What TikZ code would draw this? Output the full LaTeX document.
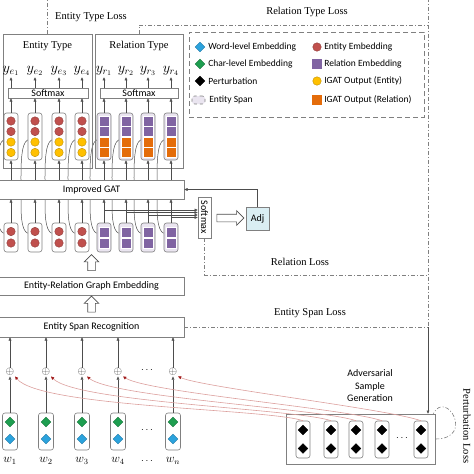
\documentclass[tikz,border=0pt]{standalone}
\usepackage{graphicx}
\usepackage{fontspec}
\setmainfont{Liberation Serif}
\setsansfont{Carlito}
\usetikzlibrary{arrows.meta, positioning, shapes.geometric, shapes.arrows, calc, backgrounds}
\definecolor{cred}{HTML}{C0504D}
\definecolor{cyellow}{HTML}{FFC000}
\definecolor{cpurple}{HTML}{8064A2}
\definecolor{corange}{HTML}{E46C0A}
\definecolor{cblue}{HTML}{2CA3DD}
\definecolor{cgreen}{HTML}{1E9E50}
\definecolor{cgrey}{HTML}{808080}
\definecolor{cline}{HTML}{4D4D4D}
\definecolor{cdark}{HTML}{A01818}
\definecolor{cadj}{HTML}{DAEEF3}
\definecolor{clav}{HTML}{EAE5F0}
\tikzset{
  every picture/.style={font=\sffamily\fontsize{10}{12}\selectfont, line width=0.6pt},
  box/.style={draw=cgrey, fill=white, inner sep=0pt},
  colbox/.style={draw=cgrey, fill=#1, rounded corners=2.5pt, minimum width=14, inner sep=0pt},
  colbox/.default=white,
  ball/.style={circle, draw=#1!75!black, line width=0.4pt, fill=#1, minimum size=8.5, inner sep=0pt},
  sq/.style={draw=white, line width=0.5pt, fill=#1, minimum size=10, inner sep=0pt},
  dia/.style={diamond, draw=#1!75!black, line width=0.4pt, fill=#1, minimum size=10, inner sep=0pt},
  arr/.style={-{Triangle[length=3.2pt, width=2.8pt]}, draw=cline, line width=0.5pt},
  redarr/.style={-{Triangle[length=3.2pt, width=3pt, color=cdark]}, draw=cred!55, line width=0.6pt},
  skip/.style={draw=cline, line width=0.5pt},
  loss/.style={draw=cgrey, line width=0.6pt, dash pattern=on 4pt off 2pt on 1pt off 2pt},
  hollow/.style={single arrow, draw=cline, fill=white, line width=0.6pt, minimum width=14,
    single arrow head extend=3.5pt, inner sep=3.5pt, minimum height=#1},
  ttl/.style={font=\rmfamily\fontsize{10.5}{12}\selectfont},
  legtext/.style={font=\sffamily\fontsize{9.5}{11}\selectfont, anchor=west, inner sep=0pt},
  lab/.style={font=\fontsize{14}{14}\selectfont, inner sep=1pt},
}

\begin{document}
\begin{tikzpicture}[x=1pt, y=-1pt]
  \useasboundingbox (0,0) rectangle (474,474);

  % type classification boxes
  \node[draw=cgrey, minimum width=89, minimum height=134] (etbox) at (47.5,101) {};
  \node[draw=cgrey, minimum width=88, minimum height=134] (rtbox) at (139,101) {};
  \node[ttl] (ett) at (47.5,46) {Entity Type};
  \node[ttl] (rtt) at (139,46) {Relation Type};
  \node[box, minimum width=80, minimum height=10] (esm) at (48,93) {Softmax};
  \node[box, minimum width=78, minimum height=10] (rsm) at (139,93) {Softmax};

  % improved GAT and the layers below
  \node[box, minimum width=185, minimum height=19] (gat) at (91.5,189.5) {Improved GAT};
  \node[box, minimum width=185, minimum height=18] (erge) at (91.5,286) {Entity-Relation Graph Embedding};
  \node[box, minimum width=185, minimum height=20] (esr) at (91.5,327) {Entity Span Recognition};

  % entity columns
  \foreach \x [count=\k] in {11,35,59,82} {
    \node[colbox, minimum height=47] (ue\k) at (\x,136.5) {};
    \node[ball=cred] (uea\k) at (\x,121) {};
    \node[ball=cred] (ueb\k) at (\x,131.5) {};
    \node[ball=cyellow] (uec\k) at (\x,142) {};
    \node[ball=cyellow] (ued\k) at (\x,152.5) {};
    \node[lab] (ye\k) at (\x,71) {$y_{e_\k}$};
    \draw[arr] (ue\k) -- (ue\k |- esm.south);
    \draw[arr] (esm.north -| ue\k) -- (ye\k);
    \node[colbox, minimum height=29] (le\k) at (\x,237.5) {};
    \node[ball=cred] (lea\k) at (\x,231.5) {};
    \node[ball=cred] (leb\k) at (\x,243) {};
  }
  % relation columns
  \foreach \x [count=\k] in {104,126,148,171} {
    \node[colbox=clav, minimum height=47] (ur\k) at (\x,136.5) {};
    \node[sq=cpurple] (ura\k) at (\x,121) {};
    \node[sq=cpurple] (urb\k) at (\x,131.5) {};
    \node[sq=corange] (urc\k) at (\x,142) {};
    \node[sq=corange] (urd\k) at (\x,152.5) {};
    \node[lab] (yr\k) at (\x,71) {$y_{r_\k}$};
    \draw[arr] (ur\k) -- (ur\k |- rsm.south);
    \draw[arr] (rsm.north -| ur\k) -- (yr\k);
    \node[colbox=clav, minimum height=29] (lr\k) at (\x,237.5) {};
    \node[sq=cpurple] (lra\k) at (\x,232) {};
    \node[sq=cpurple] (lrb\k) at (\x,243) {};
  }
  \foreach \n in {e1,e2,e3,e4,r1,r2,r3,r4} {
    \draw[arr] (gat.north -| u\n) -- (u\n);
    \draw[arr] (l\n) -- (l\n |- gat.south);
  }
  \begin{scope}[on background layer]
    \foreach \n in {e1,e2,e3,e4,r1,r2,r3,r4}
      \draw[skip] (l\n.150) .. controls +(-7,-3) and +(0,12) .. ($(gat.south -| l\n)+(-14,0)$)
        -- ($(gat.north -| u\n)+(-14,0)$) .. controls +(0,-12) and +(-7,3) .. (u\n.205);
  \end{scope}

  % adjacency branch
  \node[box, minimum width=13, minimum height=41] (smx) at (204.5,217.5) {\rotatebox{-90}{Softmax}};
  \node[box, fill=cadj, minimum size=23] (adj) at (257.5,218.5) {Adj};
  \foreach \k in {1,...,4} {
    \coordinate (hb\k) at ([yshift={(4-\k)*2.5pt}]smx.west);
    \draw[arr] (hb\k -| lr\k) -- (hb\k);
  }
  \node[hollow=27] (ha3) at ($(smx.east)!0.5!(adj.west)$) {};
  \draw[arr] (adj.north) |- (gat.east);

  \node[hollow=16, shape border rotate=90] (ha1) at ($(erge.north)!0.5!(erge.north |- le4.south)$) {};
  \node[hollow=16, shape border rotate=90] (ha2) at ($(esr.north)!0.5!(erge.south)$) {};

  % input words
  \foreach \x/\w [count=\k] in {10/1,46/2,82/3,118/4,173/n} {
    \node[colbox, minimum width=15, minimum height=37] (wc\k) at (\x,431.5) {};
    \node[dia=cgreen] (wg\k) at (\x,422) {};
    \node[dia=cblue] (wb\k) at (\x,439) {};
    \node[font=\fontsize{12}{12}\selectfont] (wl\k) at (\x,461) {$w_\w$};
    \node[font=\fontsize{11}{11}\selectfont, text=black!80, inner sep=0.5pt] (pl\k) at (\x,372) {$\oplus$};
    \draw[arr] (wc\k) -- (pl\k);
    \draw[arr] (pl\k) -- (pl\k |- esr.south);
  }
  \node (dd1) at (147,370) {$\cdots$};
  \node (dd2) at (147,430) {$\cdots$};
  \node (dd3) at (147,461) {$\cdots$};

  % adversarial sample generation
  \node[box, minimum width=149, minimum height=50] (adv) at (360.5,439) {};
  \foreach \x [count=\k] in {303,331,356,382,421} {
    \node[colbox, minimum height=37] (ac\k) at (\x,439.5) {};
    \node[dia=black] (ad\k) at (\x,430) {};
    \node[dia=black] (ae\k) at (\x,448.5) {};
  }
  \node (dd4) at (402,438) {$\cdots$};
  \node[align=center, font=\sffamily\fontsize{10}{12.5}\selectfont] (asg) at (370,386) {Adversarial\\Sample\\Generation};
  \foreach \k [evaluate=\k as \dy using 36-5*\k] in {1,...,5}
    \draw[redarr] (ac\k.north) .. controls +(-35,-12) and +(25,\dy) .. (pl\k.south east);

  % losses
  \coordinate (cet) at (428,-1);
  \coordinate (crt) at (428,25);
  \coordinate (crl) at (428,275);
  \coordinate (ces) at (428,327);
  \draw[loss] (etbox.north) |- (cet) -- (ces);
  \draw[loss] (rtbox.north) |- (crt);
  \draw[loss] (smx.south) |- (crl);
  \draw[loss] (esr.east) -- (ces);
  \draw[arr] (ces) -- (ces |- adv.north);
  \draw[loss] (adv.east) .. controls +(40,0) and +(13,-25) .. ($(adv.north east)+(-2,0)$);
  \node[ttl] (letl) at (91,17) {Entity Type Loss};
  \node[ttl] (lrtl) at (307,12) {Relation Type Loss};
  \node[ttl] (lrl) at (300,262) {Relation Loss};
  \node[ttl] (lesl) at (310,313) {Entity Span Loss};
  \node[ttl, rotate=-90, inner sep=1pt] (lpl) at (467,426) {Perturbation Loss};

  % legend
  \node[draw=cgrey, dash pattern=on 5pt off 3pt, minimum width=235, minimum height=85] (leg) at (306.5,74.5) {};
  \node[dia=cblue] (ls1) at (200,47) {};
  \node[legtext] (lt1) at (208,47) {Word-level Embedding};
  \node[dia=cgreen] (ls2) at (200,64) {};
  \node[legtext] (lt2) at (208,64) {Char-level Embedding};
  \node[dia=black] (ls3) at (200,81) {};
  \node[legtext] (lt3) at (208,81) {Perturbation};
  \node[draw=cgrey, fill=clav, dashed, rounded corners=2.5pt, minimum width=13, minimum height=8, inner sep=0pt] (ls4) at (198.5,100) {};
  \node[legtext] (lt4) at (209,100) {Entity Span};
  \node[ball=cred] (ls5) at (317,47) {};
  \node[legtext] (lt5) at (324,47) {Entity Embedding};
  \node[sq=cpurple, draw=none] (ls6) at (317,64) {};
  \node[legtext] (lt6) at (324,64) {Relation Embedding};
  \node[ball=cyellow] (ls7) at (317,81) {};
  \node[legtext] (lt7) at (324,81) {IGAT Output (Entity)};
  \node[sq=corange, draw=none] (ls8) at (317,100) {};
  \node[legtext] (lt8) at (324,100) {IGAT Output (Relation)};
\end{tikzpicture}
\end{document}
